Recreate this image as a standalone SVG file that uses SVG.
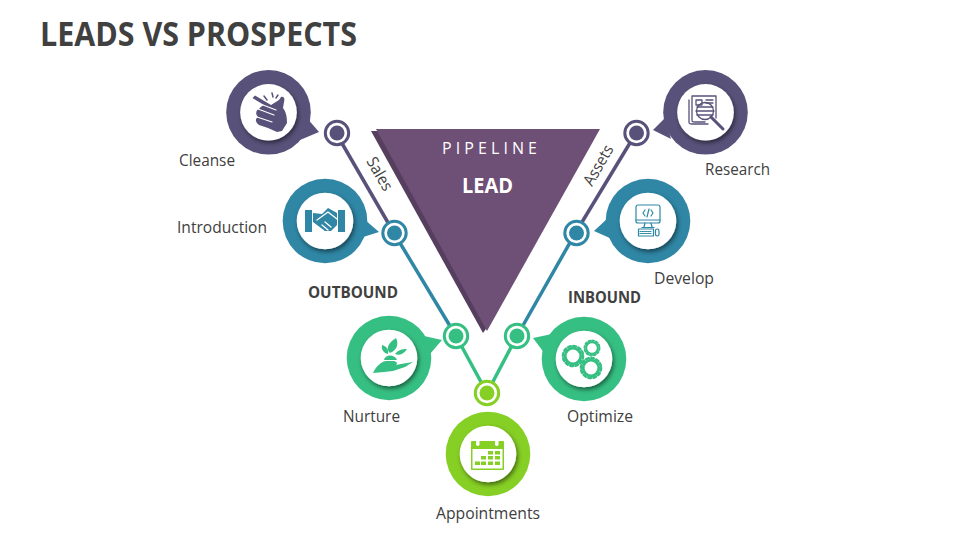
<svg xmlns="http://www.w3.org/2000/svg" width="960" height="540" viewBox="0 0 960 540">
<style>
text{font-family:"Open Sans","Liberation Sans",sans-serif;fill:#404040}
.lb{font-size:16px}
.hd{font-size:16px;font-weight:700}
.disc{fill:#fff;filter:url(#sh)}
.w{fill:#fff}
.no{fill:none;stroke-linecap:round;stroke-linejoin:round}
.pu{fill:#58527a}.pus{stroke:#58527a}
.te{fill:#2f86a5}.tes{stroke:#2f86a5}
.gr{fill:#36bf82}.grs{stroke:#36bf82}
.li{fill:#86cf24}.lis{stroke:#86cf24}
</style>
<defs>
<filter id="sh" x="-30%" y="-30%" width="170%" height="170%"><feDropShadow dx="1.500" dy="2.500" stdDeviation="2" flood-color="#000" flood-opacity=".5"/></filter>
<g id="gear"><circle r="7.800" fill="none" stroke-width="2.800"/><circle r="10" fill="none" stroke-width="2.600" stroke-dasharray="2.600 2.640"/></g>
</defs>
<rect width="960" height="540" fill="#fff"/>
<text x="40" y="46" style="font-size:34px;font-weight:700" textLength="317" lengthAdjust="spacingAndGlyphs">LEADS VS PROSPECTS</text>

<g id="pipeline">
<polygon points="371,131 483,333 488,326 392,131" fill="#553e5e"/>
<polygon points="376,129 600,129 487,331" fill="#6e4f75"/>
<text x="442" y="154" style="font-size:16px;fill:#fff" textLength="95">PIPELINE</text>
<text x="462" y="192.500" style="font-size:21px;font-weight:700;fill:#fff" textLength="51" lengthAdjust="spacingAndGlyphs">LEAD</text>
</g>

<g id="connectors" fill="none" stroke-width="3.500">
<line x1="336" y1="133" x2="394" y2="233" class="pus"/>
<line x1="394" y1="233" x2="456" y2="336" class="tes"/>
<line x1="456" y1="336" x2="487" y2="393" class="grs"/>
<line x1="636" y1="133" x2="576" y2="232" class="pus"/>
<line x1="576" y1="232" x2="517" y2="336" class="tes"/>
<line x1="517" y1="336" x2="487" y2="393" class="grs"/>
</g>
<text class="lb" transform="translate(366,161) rotate(60)" textLength="36" lengthAdjust="spacingAndGlyphs">Sales</text>
<text class="lb" transform="translate(592,187) rotate(-60)" textLength="44" lengthAdjust="spacingAndGlyphs">Assets</text>
<text class="hd" x="308" y="298" textLength="90" lengthAdjust="spacingAndGlyphs">OUTBOUND</text>
<text class="hd" x="568" y="303" textLength="73" lengthAdjust="spacingAndGlyphs">INBOUND</text>

<g id="dots">
<g><circle cx="337" cy="133" r="11.700" fill="#fff" class="pus" stroke-width="3"/><circle cx="337" cy="133" r="7.500" class="pu"/></g>
<g><circle cx="394.500" cy="233" r="11.700" fill="#fff" class="tes" stroke-width="3"/><circle cx="394.500" cy="233" r="7.500" class="te"/></g>
<g><circle cx="576.500" cy="233" r="11.700" fill="#fff" class="tes" stroke-width="3"/><circle cx="576.500" cy="233" r="7.500" class="te"/></g>
<g><circle cx="636.500" cy="133" r="11.700" fill="#fff" class="pus" stroke-width="3"/><circle cx="636.500" cy="133" r="7.500" class="pu"/></g>
<g><circle cx="456" cy="336" r="11.700" fill="#fff" class="grs" stroke-width="3"/><circle cx="456" cy="336" r="7.500" class="gr"/></g>
<g><circle cx="517" cy="336" r="11.700" fill="#fff" class="grs" stroke-width="3"/><circle cx="517" cy="336" r="7.500" class="gr"/></g>
<g><circle cx="487" cy="393" r="11.700" fill="#fff" class="lis" stroke-width="3"/><circle cx="487" cy="393" r="7.500" class="li"/></g>
</g>

<g id="cleanse">
<polygon points="306,117 319,132 300,140" class="pu"/>
<circle cx="268.500" cy="112.300" r="42.300" class="pu"/><circle cx="268.500" cy="112.300" r="28.300" class="disc"/>
<path d="M252.500,98 L255,95.500 L271,105 L279,100 L281,97 C284,96 285,99 284,102 L283,108 C287,113 287,120 287,123 L282,131 L277,132 L268,128 L259,125 C255,122 255,119 258,117 C255,114 256,110 259,109 C260,107 262,106 264,105Z" class="pu"/>
<path d="M257,117 L272,122 M258,109 L274,115 M263,105 L276,110" class="no" stroke="#fff" stroke-width="1.200"/>
<path d="M264,96 L267,100 M272,93 L273,97 M278,95 L276,98" class="no pus" stroke-width="1.500"/>
</g>
<text class="lb" x="179" y="166" textLength="56" lengthAdjust="spacingAndGlyphs">Cleanse</text>

<g id="introduction">
<polygon points="364,219 379,232 360,238" class="te"/>
<circle cx="325" cy="221" r="42.300" class="te"/><circle cx="325" cy="221" r="28.300" class="disc"/>
<rect x="305" y="210" width="7" height="22" class="te"/><rect x="338" y="210" width="7" height="22" class="te"/>
<path d="M313,213 L322,214 L328,208 L337,213 L337,225 L331,231 L325,231 L313,222Z" class="te"/>
<path d="M317,220 L328,212 L337,219 M325,222 L331,227 M322,225 L328,230" class="no" stroke="#fff" stroke-width="1.300"/>
</g>
<text class="lb" x="177" y="233" textLength="90" lengthAdjust="spacingAndGlyphs">Introduction</text>

<g id="research">
<polygon points="653,130 665,118 671,139" class="pu"/>
<circle cx="705.500" cy="112.300" r="42.300" class="pu"/><circle cx="705.500" cy="112.300" r="28.300" class="disc"/>
<g class="no pus" stroke-width="1.300">
<path d="M692,96 H716 V118 M692,96 V119 C692,122 692,122 695,122 H705 M689,100 V122 C689,124 690,124 692,124 H708"/>
<circle cx="705" cy="111" r="8.500"/><path d="M711,117 L723,129" stroke-width="3"/>
<path d="M697,107 H713 M696,111 H714 M697,115 H713 M706,100 H713 M706,103 H713"/><rect x="696" y="100" width="6" height="5"/>
</g>
</g>
<text class="lb" x="705" y="175" textLength="65" lengthAdjust="spacingAndGlyphs">Research</text>

<g id="develop">
<polygon points="594,231 608,218 612,239" class="te"/>
<circle cx="648" cy="221" r="42.300" class="te"/><circle cx="648" cy="221" r="28.300" class="disc"/>
<g class="no tes" stroke-width="1.200">
<rect x="636" y="205" width="24" height="18" rx="2"/><path d="M636,220 H660 M645,223 L644,227 M651,223 L652,227 M642,227.500 H654"/>
<path d="M645,210 L643,213 L645,216 M651,210 L653,213 L651,216 M649,209 L647,217"/>
<rect x="638.500" y="229" width="15" height="7"/><path d="M640,231.500 H652 M640,233.500 H652" stroke-dasharray="1 1"/><rect x="655.500" y="229" width="3.500" height="7" rx="1.700"/>
</g>
</g>
<text class="lb" x="654" y="284" textLength="60" lengthAdjust="spacingAndGlyphs">Develop</text>

<g id="nurture">
<polygon points="442,340 424,336 430,354" class="gr"/>
<circle cx="389" cy="358" r="42.300" class="gr"/><circle cx="389" cy="358" r="28.300" class="disc"/>
<path d="M373,373 C376,367 380,362 386,361 L394,361 C397,362 398,363 396,365 L401,364 L413,362 L405,367 L393,371 L384,372 Z" class="gr"/>
<path d="M384,360 C385,354 395,354 397,360Z" class="gr"/>
<path d="M390,353 C385,349 389,342 396,338 C399,344 397,350 390,353Z M388,354 C384,353 381,350 382,345 C386,346 389,349 388,354Z M395,354 C398,350 402,349 407,349 C404,354 399,356 395,354Z" class="gr"/>
</g>
<text class="lb" x="343" y="422" textLength="57" lengthAdjust="spacingAndGlyphs">Nurture</text>

<g id="optimize">
<polygon points="533,338 552,334 545,354" class="gr"/>
<circle cx="584" cy="359" r="42.300" class="gr"/><circle cx="584" cy="359" r="28.300" class="disc"/>
<g class="no grs"><g transform="translate(573,356)"><use href="#gear"/></g><g transform="translate(591,368)"><use href="#gear"/></g><g transform="translate(592,348) scale(.75)"><use href="#gear"/></g></g>
</g>
<text class="lb" x="567" y="422" textLength="66" lengthAdjust="spacingAndGlyphs">Optimize</text>

<g id="appointments">
<circle cx="488" cy="454" r="42.300" class="li"/><circle cx="488" cy="454" r="28.300" class="disc"/>
<path d="M472,441 H503 Q504,441 504,442 V469 Q504,470 503,470 H472 Q471,470 471,469 V442 Q471,441 472,441Z" class="li"/>
<rect x="472.500" y="449" width="30" height="19.500" class="w"/>
<rect x="476" y="438" width="3.500" height="8" rx="1.700" class="w"/><rect x="495" y="438" width="3.500" height="8" rx="1.700" class="w"/>
<g class="li"><rect x="488" y="451" width="5" height="3.500"/><rect x="495" y="451" width="5" height="3.500"/><rect x="481" y="456" width="5" height="3.500"/><rect x="488" y="456" width="5" height="3.500"/><rect x="495" y="456" width="5" height="3.500"/><rect x="475" y="461.500" width="5" height="3.500"/><rect x="481" y="461.500" width="5" height="3.500"/><rect x="488" y="461.500" width="5" height="3.500"/><rect x="495" y="461.500" width="5" height="3.500"/></g>
</g>
<text class="lb" x="436" y="519" textLength="104" lengthAdjust="spacingAndGlyphs">Appointments</text>
</svg>
